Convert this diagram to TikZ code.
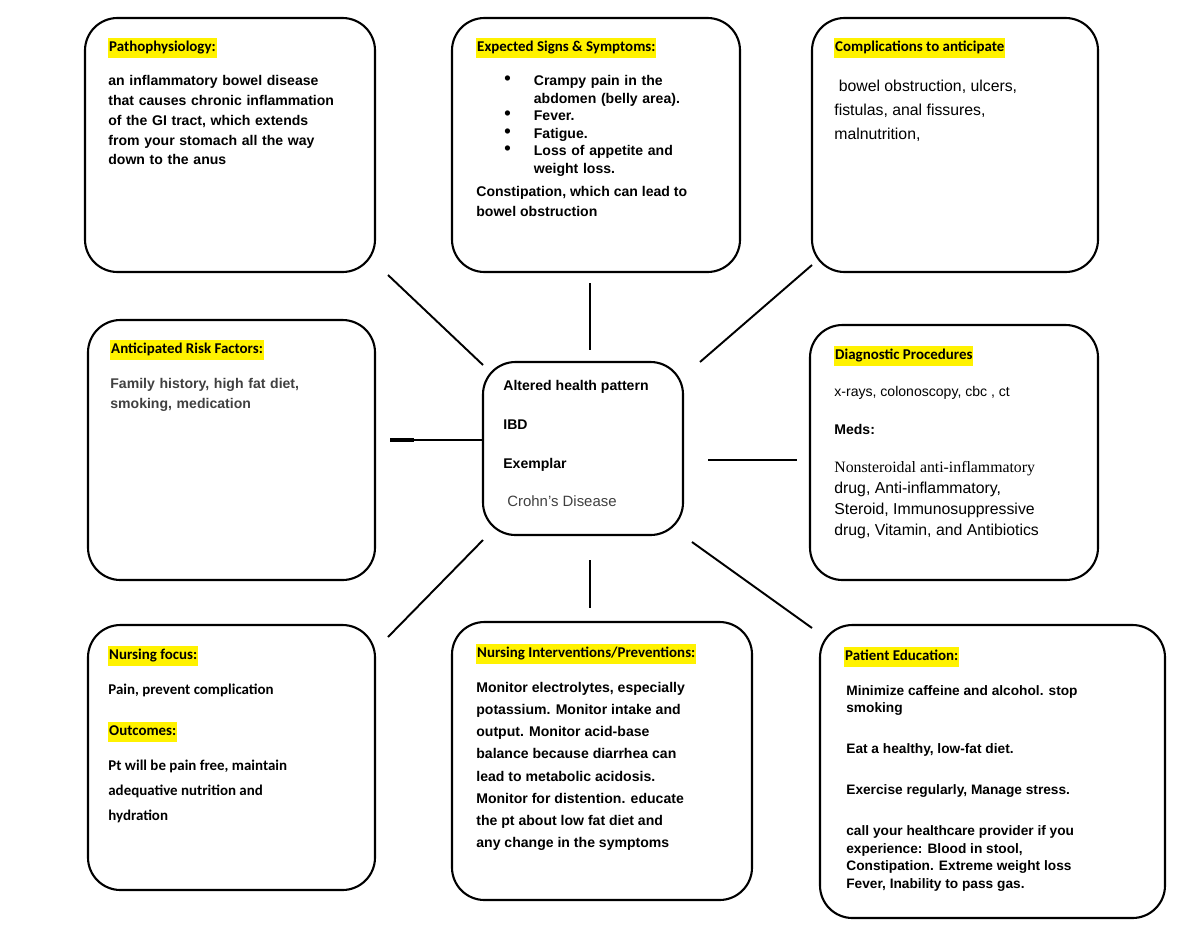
\documentclass[tikz,border=0pt]{standalone}
\usepackage{fontspec}
\setmainfont{Liberation Sans}
\newfontfamily\headfont{Carlito}
\newfontfamily\timesfont{Liberation Serif}
\begin{document}
\begin{tikzpicture}[x=0.02cm,y=-0.02cm,
  card/.style = {draw, line width=1.2pt, rounded corners=0.65cm},
  head/.style = {anchor=north west, inner sep=0pt, font=\headfont\bfseries\fontsize{8.5}{10}\selectfont},
  body/.style = {anchor=north west, inner sep=0pt, align=left, font=\bfseries\fontsize{8}{11.3}\selectfont},
  link/.style = {line width=1.1pt}]
\newcommand{\hl}[1]{\colorbox{yellow}{\strut #1}}
\newcommand{\bul}{\makebox[2.1em][l]{\raisebox{0.15ex}{\scalebox{1.3}{\textbullet}}}}
\setlength{\fboxsep}{0.5pt}
\useasboundingbox (0,0) rectangle (1200,927);
		% Karten
		\draw[card] (85,18) rectangle (375,272);	% patho
		\draw[card] (452,18) rectangle (740,272);	% signs
		\draw[card] (812,18) rectangle (1098,272);	% compl
		\draw[card] (88,320) rectangle (375,580);	% risk
		\draw[card] (483,362) rectangle (683,535);	% center
		\draw[card] (810,325) rectangle (1098,580);	% diag
		\draw[card] (88,625) rectangle (375,890);	% focus
		\draw[card] (452,622) rectangle (752,900);	% interv
		\draw[card] (820,625) rectangle (1165,918);	% educ
		% Texte
		\node[head] (patho) at (108,38) {\hl{Pathophysiology:}};
		\node[body, text width=5cm] (pathotxt) at (108,75) {an inflammatory bowel disease\\that causes chronic inflammation\\of the GI tract, which extends\\from your stomach all the way\\down to the anus};
		\node[head] (signs) at (476,38) {\hl{Expected Signs \& Symptoms:}};
		\node[body, text width=5cm, font=\bfseries\fontsize{8}{10}\selectfont] (signstxt) at (504,75) {\bul Crampy pain in the\\\hspace{2.1em}abdomen (belly area).\\\bul Fever.\\\bul Fatigue.\\\bul Loss of appetite and\\\hspace{2.1em}weight loss.};
		\node[body] (signsend) at (476,186) {Constipation, which can lead to\\bowel obstruction};
		\node[head] (compl) at (834,38) {\hl{Complications to anticipate}};
		\node[anchor=north west, inner sep=0pt, align=left, font=\fontsize{9}{13.5}\selectfont] (compltxt) at (834,80) {\ bowel obstruction, ulcers,\\fistulas, anal fissures,\\malnutrition,};
		\node[head] (risk) at (110,340) {\hl{Anticipated Risk Factors:}};
		\node[body, text width=5cm, text=black!75] (risktxt) at (110,378) {Family history, high fat diet,\\smoking, medication};
		\node[body] (center) at (503,380) {Altered health pattern};
		\node[body] (ibd) at (503,419) {IBD};
		\node[body] (exem) at (503,458) {Exemplar};
		\node[anchor=north west, inner sep=0pt, font=\fontsize{8.5}{10}\selectfont, text=black!75] (crohn) at (507,495) {Crohn's Disease};
		\node[head] (diag) at (834,346) {\hl{Diagnostic Procedures}};
		\node[anchor=north west, inner sep=0pt, font=\fontsize{8}{10}\selectfont] (diagtxt) at (834,386) {x-rays, colonoscopy, cbc , ct};
		\node[body] (meds) at (834,424) {Meds:};
		\node[anchor=north west, inner sep=0pt, align=left, font=\fontsize{9}{12}\selectfont] (medstxt) at (834,461) {{\timesfont Nonsteroidal anti-inflammatory}\\drug, Anti-inflammatory,\\Steroid, Immunosuppressive\\drug, Vitamin, and Antibiotics};
		\node[head] (focus) at (108,646) {\hl{Nursing focus:}};
		\node[head] (focustxt) at (108,684) {Pain, prevent complication};
		\node[head] (outc) at (108,722) {\hl{Outcomes:}};
		\node[head, align=left, font=\headfont\bfseries\fontsize{8.5}{14}\selectfont] (outctxt) at (108,760) {Pt will be pain free, maintain\\adequative nutrition and\\hydration};
		\node[head] (interv) at (476,644) {\hl{Nursing Interventions/Preventions:}};
		\node[body, font=\bfseries\fontsize{8}{12.6}\selectfont] (intervtxt) at (476,682) {Monitor electrolytes, especially\\potassium. Monitor intake and\\output. Monitor acid-base\\balance because diarrhea can\\lead to metabolic acidosis.\\Monitor for distention. educate\\the pt about low fat diet and\\any change in the symptoms};
		\node[head] (educ) at (844,647) {\hl{Patient Education:}};
		\node[body, font=\bfseries\fontsize{7.8}{10}\selectfont] (eductxt) at (846,685) {Minimize caffeine and alcohol. stop\\smoking\\[1.7em]Eat a healthy, low-fat diet.\\[1.7em]Exercise regularly, Manage stress.\\[1.7em]call your healthcare provider if you\\experience: Blood in stool,\\Constipation. Extreme weight loss\\Fever, Inability to pass gas.};
		% Linien
		\draw[link] (388,275) -- (483,365);
		\draw[link] (590,283) -- (590,350);
		\draw[link] (700,362) -- (812,265);
		\draw[link] (390,440) -- (483,440);
		\draw[line width=2pt] (390,440) -- (414,440);
		\draw[link] (708,460) -- (797,460);
		\draw[link] (388,637) -- (483,540);
		\draw[link] (590,560) -- (590,608);
		\draw[link] (692,542) -- (812,628);
\end{tikzpicture}
\end{document}
